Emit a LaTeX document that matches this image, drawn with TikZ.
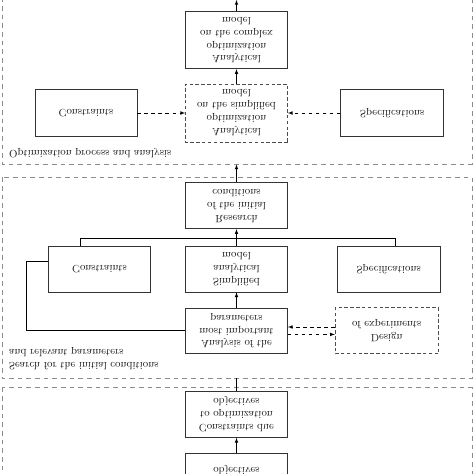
\documentclass[tikz,border=0pt]{standalone}
\usepackage{tikz}
\usetikzlibrary{shapes,arrows,positioning,calc}
\tikzset{box/.style={
    draw=black!80,
    rectangle,
    semithick,
    minimum width=3.06cm,
    minimum height=1.38cm,
    align=center,
    font=\small,
    text=black!90,
  }}
\tikzset{dbox/.style={box,draw=black!70,dash pattern=on 3pt off 2pt}}
\tikzset{region/.style={draw=black!45,thin,dash pattern=on 4pt off 3.4pt}}
\tikzset{caption/.style={anchor=west,align=left,font=\small,text=black!90}}

\begin{document}
\begin{tikzpicture}[yscale=-1, transform shape, x=0.03cm, y=0.03cm, >=latex]
        \useasboundingbox (0,0) rectangle (474,474);
        \clip (0,0) rectangle (474,474);

        % the three phases
        \draw[region] (2,-20) rectangle (472,164);
        \draw[region] (2,177.3) rectangle (472,378.3);
        \draw[region] (2,387.7) rectangle (472,500);

        % optimization process
        \node (cplx) [box, minimum height=1.71cm] at (236.5,40.3) {Analytical\\optimization\\on the complex\\model};
        \node (simpopt) [dbox, minimum height=1.74cm] at (236.5,113) {Analytical\\optimization\\on the simplified\\model};
        \node (cons1) [box, minimum height=1.41cm] at (86,113) {Constraints};
        \node (spec1) [box, minimum height=1.41cm, minimum width=3.09cm] at (392.2,113) {Specifications};
        \node (lab1) [caption] at (5,153) {Optimization process and analysis};

        \coordinate (exit) at (236.5,0);
        \draw[->] (cplx) -- (exit);
        \draw[->] (simpopt) -- (cplx);
        \draw[->,dashed] (cons1) -- (simpopt);
        \draw[->,dashed] (spec1) -- (simpopt);

        % search for the initial conditions
        \node (res) [box] at (236.5,205.8) {Research\\of the initial\\conditions};
        \node (cons2) [box] at (99.5,269) {Constraints};
        \node (simp) [box] at (236.5,269) {Simplified\\analytical\\model};
        \node (spec2) [box, minimum width=3.09cm] at (388.7,269) {Specifications};
        \node (anal) [box, minimum height=1.35cm] at (236.5,330.8) {Analysis of the\\most important\\parameters};
        \node (doe) [dbox, minimum width=3.09cm] at (386.7,330.8) {Design\\of experiments};
        \node (lab2) [caption] at (5,359) {Search for the initial conditions\\and relevant parameters};

        \coordinate (s1) at (236.5,164.5);
        \draw[->] (res) -- (s1);
        \draw[->] (simp) -- (res);
        \draw[->] (anal) -- (simp);

        \coordinate (tl) at (80,238.7);
        \coordinate (tr) at (395,238.7);
        \draw (tl |- cons2.south) -- (tl) -- (tr) -- (tr |- spec2.south);

        \coordinate (lk1) at (26.7,261);
        \coordinate (lk2) at (26.7,330);
        \draw (cons2.west |- lk1) -- (lk1) -- (lk2) -- (anal.west |- lk2);

        \draw[->,dashed] ($(doe.west)+(0,-3.8)$) -- ($(anal.east)+(0,-3.8)$);
        \draw[->,dashed] ($(anal.east)+(0,3.6)$) -- ($(doe.west)+(0,3.6)$);

        % objectives
        \node (cdue) [box] at (236.5,414.5) {Constraints due\\to optimization\\objectives};
        \node (obj) [box] at (236.5,476.3) {\mbox{}\\[6pt]objectives};

        \coordinate (s2) at (236.5,378.3);
        \draw (cdue) -- (s2);
        \draw[->] (obj) -- (cdue);

      \end{tikzpicture}
\end{document}
